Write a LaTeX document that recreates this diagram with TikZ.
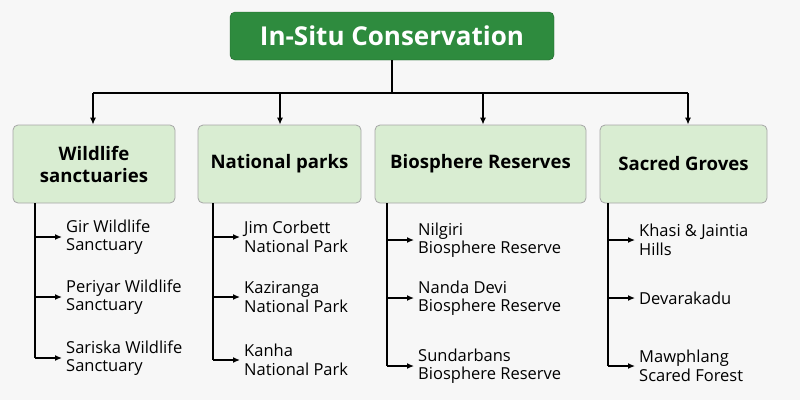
\documentclass[tikz,border=0pt]{standalone}
\usepackage{fontspec}
\setmainfont{Open Sans}
\usetikzlibrary{arrows.meta}
\definecolor{dg}{HTML}{2E8B3E}
\definecolor{lg}{HTML}{D9EDD2}
\definecolor{bg}{HTML}{F7F7F7}
\tikzset{
 hdr/.style={draw=gray!70,fill=lg,rounded corners=5pt,line width=0.8pt,font=\fontsize{18.6}{22}\selectfont\bfseries,align=center,minimum height=78pt},
 item/.style={anchor=west,align=left,font=\fontsize{16.5}{18.5}\selectfont,inner sep=0pt},
 ln/.style={line width=1.3pt},
 ar/.style={line width=1.3pt,-{Latex[length=7pt,width=6pt]}}
}
\begin{document}
\begin{tikzpicture}[x=1pt,y=-1pt]
\useasboundingbox[fill=bg] (0,0) rectangle (800,400);
\node[draw=dg!70!black,fill=dg,rounded corners=5pt,text=white,font=\fontsize{26}{30}\selectfont\bfseries,minimum width=324pt,minimum height=48pt] (top) at (392,36) {In-Situ Conservation};
\node[hdr,minimum width=162pt] (h1) at (94,164) {Wildlife\\sanctuaries};
\node[hdr,minimum width=163pt] (h2) at (279.5,164) {National parks};
\node[hdr,minimum width=211pt] (h3) at (480.5,164) {Biosphere Reserves};
\node[hdr,minimum width=167pt] (h4) at (683.5,164) {Sacred Groves};
\coordinate (j) at (392,93);
\draw[ln] (top.south) -- (j);
\draw[ln] (93,93) -- (688,93);
\foreach \n/\x in {h1/93,h2/280,h3/483,h4/688}{\draw[ar] (\x,93) -- (\n.north -| \x,125);}
% items
\foreach \n/\x/\ya/\yb/\yc/\ta/\tb/\tc in {
 h1/35/237/297/358/{Gir Wildlife\\Sanctuary}/{Periyar Wildlife\\Sanctuary}/{Sariska Wildlife\\Sanctuary},
 h2/213/237/297/360/{Jim Corbett\\National Park}/{Kaziranga\\National Park}/{Kanha\\National Park},
 h3/387/240/298/366/{Nilgiri\\Biosphere Reserve}/{Nanda Devi\\Biosphere Reserve}/{Sundarbans\\Biosphere Reserve},
 h4/608/240/298/366/{Khasi \& Jaintia\\Hills}/{Devarakadu}/{Mawphlang\\Scared Forest}}{
  \draw[ln] (\x,203) -- (\x,\yc);
  \node[item] (\n a) at (\x+31,\ya) {\ta};
  \node[item] (\n b) at (\x+31,\yb) {\tb};
  \node[item] (\n c) at (\x+31,\yc) {\tc};
  \draw[ar] (\x,\ya) -- (\x+27,\ya);
  \draw[ar] (\x,\yb) -- (\x+27,\yb);
  \draw[ar] (\x,\yc) -- (\x+27,\yc);
}
\end{tikzpicture}
\end{document}
